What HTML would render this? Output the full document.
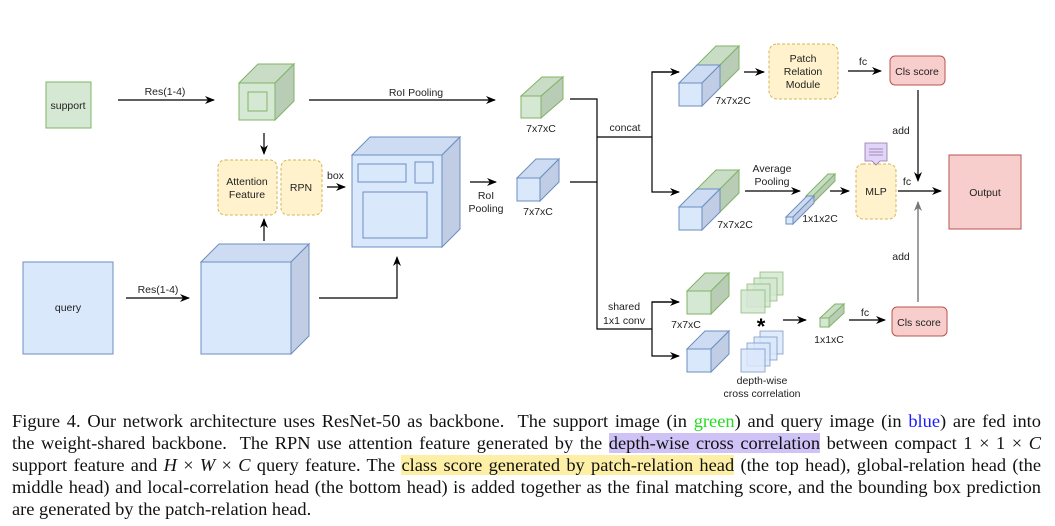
<!DOCTYPE html>
<html><head><meta charset="utf-8"><style>
body{margin:0;width:1055px;height:526px;background:#fff;position:relative;overflow:hidden}
svg{position:absolute;left:0;top:0}
svg text{font-family:"Liberation Sans",sans-serif;font-size:10.5px;fill:#222}
.cap{position:absolute;left:12px;width:1029px;font-family:"Liberation Serif",serif;font-size:18.4px;color:#111;text-align:justify;text-align-last:justify;white-space:nowrap;line-height:22px;height:22px}
.cap.last{text-align-last:left}
.hp{background:#cfc2f6}.hy{background:#fdf0a6}
i{font-family:"Liberation Serif",serif}
</style></head><body>
<svg width="1055" height="400" viewBox="0 0 1055 400">
<defs><marker id="a" markerWidth="10" markerHeight="8" refX="9" refY="4" orient="auto" markerUnits="userSpaceOnUse"><path d="M0,0 L10,4 L0,8 L3,4 z" fill="#000"/></marker>
<marker id="g" markerWidth="10" markerHeight="8" refX="9" refY="4" orient="auto" markerUnits="userSpaceOnUse"><path d="M0,0 L10,4 L0,8 L3,4 z" fill="#777"/></marker></defs>
<g stroke="#000" stroke-width="1.2" fill="none">
<line x1="118" y1="100" x2="214" y2="100" marker-end="url(#a)"/>
<line x1="309" y1="100" x2="495" y2="100" marker-end="url(#a)"/>
<line x1="264" y1="133" x2="264" y2="154" marker-end="url(#a)"/>
<line x1="264" y1="241" x2="264" y2="219" marker-end="url(#a)"/>
<line x1="327" y1="187" x2="345" y2="187" marker-end="url(#a)"/>
<line x1="126" y1="298" x2="189" y2="298" marker-end="url(#a)"/>
<polyline points="319,298 397,298 397,257" marker-end="url(#a)"/>
<line x1="470" y1="182" x2="496" y2="182" marker-end="url(#a)"/>
<polyline points="570,99 597,99 597,329 652,329"/>
<line x1="570" y1="182" x2="597" y2="182"/>
<line x1="597" y1="137" x2="652" y2="137"/>
<polyline points="679,72 652,72 652,192 679,192" marker-end="url(#a)"/>
<line x1="652" y1="72" x2="679" y2="72" marker-end="url(#a)"/>
<polyline points="679,302 652,302 652,356 679,356" marker-end="url(#a)"/>
<line x1="652" y1="302" x2="679" y2="302" marker-end="url(#a)"/>
<line x1="744" y1="72" x2="764" y2="72" marker-end="url(#a)"/>
<line x1="848" y1="71" x2="881" y2="71" marker-end="url(#a)"/>
<line x1="918" y1="90" x2="918" y2="181" marker-end="url(#a)"/>
<line x1="745" y1="191" x2="800" y2="191" marker-end="url(#a)"/>
<line x1="830" y1="191" x2="849" y2="191" marker-end="url(#a)"/>
<line x1="898" y1="191" x2="941" y2="191" marker-end="url(#a)"/>
<line x1="783" y1="320" x2="806" y2="320" marker-end="url(#a)"/>
<line x1="849" y1="320" x2="885" y2="320" marker-end="url(#a)"/>
</g>
<line x1="918" y1="302" x2="918" y2="202" stroke="#777" stroke-width="1.4" marker-end="url(#g)"/>

<rect x="46" y="82" width="45" height="46" fill="#d5e8d4" stroke="#82b366"/>
<text x="68" y="109" text-anchor="middle">support</text>
<rect x="23" y="262" width="90" height="92" fill="#dae8fc" stroke="#6c8ebf"/>
<text x="68" y="311" text-anchor="middle">query</text>

<g stroke="#82b366"><polygon points="239,83 258,64 294,64 275,83" fill="#c9dcc6"/><polygon points="275,83 294,64 294,101 275,120" fill="#b9cdb6"/><rect x="239" y="83" width="36" height="37" fill="#d5e8d4"/><rect x="248" y="92" width="19" height="19" fill="#d5e8d4"/></g>
<g stroke="#6c8ebf"><polygon points="352,155 370,137 460,137 442,155" fill="#cddcf3"/><polygon points="442,155 460,137 460,229 442,247" fill="#c0cde4"/><rect x="352" y="155" width="90" height="92" fill="#dae8fc"/>
<rect x="358" y="164" width="48" height="18" fill="#dae8fc"/><rect x="415" y="162" width="18" height="21" fill="#dae8fc"/><rect x="363" y="192" width="64" height="46" fill="#dae8fc"/></g>
<g stroke="#6c8ebf"><polygon points="201,262 219,244 309,244 291,262" fill="#cddcf3"/><polygon points="291,262 309,244 309,336 291,354" fill="#c0cde4"/><rect x="201" y="262" width="90" height="92" fill="#dae8fc"/></g>

<rect x="218" y="160" width="59" height="55" rx="7" fill="#fff2cc" stroke="#d6b656" stroke-dasharray="3,2"/>
<text x="247" y="185" text-anchor="middle">Attention</text><text x="247" y="198" text-anchor="middle">Feature</text>
<rect x="281" y="160" width="41" height="55" rx="7" fill="#fff2cc" stroke="#d6b656" stroke-dasharray="3,2"/>
<text x="301" y="191" text-anchor="middle">RPN</text>

<text x="165" y="95" text-anchor="middle">Res(1-4)</text>
<text x="158" y="293" text-anchor="middle">Res(1-4)</text>
<text x="416" y="96" text-anchor="middle">RoI Pooling</text>
<text x="327" y="179">box</text>
<text x="486" y="199" text-anchor="middle">RoI</text><text x="486" y="212" text-anchor="middle">Pooling</text>

<g stroke="#82b366"><polygon points="521,96 542,77 563,77 541,96" fill="#c9dcc6"/><polygon points="541,96 563,77 563,99 541,118" fill="#b9cdb6"/><rect x="521" y="96" width="20" height="22" fill="#d5e8d4"/></g>
<text x="541" y="132" text-anchor="middle">7x7xC</text>
<g stroke="#6c8ebf"><polygon points="517,178 536,159 559,159 540,178" fill="#cddcf3"/><polygon points="540,178 559,159 559,182 540,201" fill="#c0cde4"/><rect x="517" y="178" width="23" height="23" fill="#dae8fc"/></g>
<text x="538" y="215" text-anchor="middle">7x7xC</text>
<text x="625" y="131" text-anchor="middle">concat</text>
<text x="624" y="310" text-anchor="middle">shared</text><text x="624" y="324" text-anchor="middle">1x1 conv</text>

<g stroke="#82b366"><polygon points="697,65 716,46 739,46 720,65" fill="#c9dcc6"/><polygon points="720,65 739,46 739,69 720,88" fill="#b9cdb6"/></g>
<g stroke="#6c8ebf"><polygon points="679,83 697,65 720,65 702,83" fill="#cddcf3"/><polygon points="702,83 720,65 720,88 702,106" fill="#c0cde4"/><rect x="679" y="83" width="23" height="23" fill="#dae8fc"/></g>
<text x="733" y="104" text-anchor="middle">7x7x2C</text>
<g stroke="#82b366"><polygon points="697,189 716,170 739,170 720,189" fill="#c9dcc6"/><polygon points="720,189 739,170 739,193 720,212" fill="#b9cdb6"/></g>
<g stroke="#6c8ebf"><polygon points="679,207 697,189 720,189 702,207" fill="#cddcf3"/><polygon points="702,207 720,189 720,212 702,230" fill="#c0cde4"/><rect x="679" y="207" width="23" height="23" fill="#dae8fc"/></g>
<text x="735" y="228" text-anchor="middle">7x7x2C</text>

<rect x="769" y="44" width="69" height="55" rx="8" fill="#fff2cc" stroke="#d6b656" stroke-dasharray="3,2"/>
<text x="803" y="62" text-anchor="middle">Patch</text><text x="803" y="75" text-anchor="middle">Relation</text><text x="803" y="88" text-anchor="middle">Module</text>
<text x="863" y="65" text-anchor="middle">fc</text>
<rect x="890" y="56" width="55" height="29" rx="5" fill="#f8cecc" stroke="#b85450"/>
<text x="917" y="75" text-anchor="middle">Cls score</text>
<text x="901" y="134" text-anchor="middle">add</text>

<text x="772" y="172" text-anchor="middle">Average</text><text x="772" y="185" text-anchor="middle">Pooling</text>
<g stroke="#82b366"><polygon points="806,196 828,174 835,174 813,196" fill="#c9dcc6"/><polygon points="813,196 835,174 835,181 813,203" fill="#b9cdb6"/></g>
<g stroke="#6c8ebf"><polygon points="786,217 807,196 814,196 793,217" fill="#cddcf3"/><polygon points="793,217 814,196 814,203 793,224" fill="#c0cde4"/><rect x="786" y="217" width="7" height="7" fill="#dae8fc"/></g>
<text x="820" y="222" text-anchor="middle">1x1x2C</text>

<rect x="856" y="164" width="40" height="55" rx="7" fill="#fff2cc" stroke="#d6b656" stroke-dasharray="3,2"/>
<text x="876" y="195" text-anchor="middle">MLP</text>
<path d="M865,143 h22 v18 h-7 l-4,4 l-4,-4 h-7 z" fill="#e1d5fa" stroke="#9673a6" stroke-width="0.8"/>
<g stroke="#9673a6" stroke-width="0.8"><line x1="869" y1="149" x2="883" y2="149"/><line x1="869" y1="152" x2="883" y2="152"/><line x1="869" y1="155" x2="883" y2="155"/></g>
<text x="907" y="185" text-anchor="middle">fc</text>
<rect x="949" y="155" width="72" height="74" fill="#f8cecc" stroke="#b85450"/>
<text x="985" y="196" text-anchor="middle">Output</text>
<text x="901" y="260" text-anchor="middle">add</text>

<g stroke="#82b366"><polygon points="687,291 705,273 729,273 711,291" fill="#c9dcc6"/><polygon points="711,291 729,273 729,296 711,314" fill="#b9cdb6"/><rect x="687" y="291" width="24" height="23" fill="#d5e8d4"/></g>
<text x="686" y="328" text-anchor="middle">7x7xC</text>
<g stroke="#6c8ebf"><polygon points="687,349 705,331 729,331 711,349" fill="#cddcf3"/><polygon points="711,349 729,331 729,354 711,372" fill="#c0cde4"/><rect x="687" y="349" width="24" height="23" fill="#dae8fc"/></g>
<g stroke="#82b366" fill="#d5e8d4" fill-opacity="0.85" stroke-opacity="0.7"><rect x="760" y="272" width="23" height="23"/><rect x="754" y="278" width="23" height="23"/><rect x="747" y="284" width="23" height="23"/><rect x="741" y="290" width="24" height="23"/></g>
<g stroke="#6c8ebf" fill="#dae8fc" fill-opacity="0.85" stroke-opacity="0.7"><rect x="760" y="331" width="23" height="23"/><rect x="754" y="337" width="23" height="23"/><rect x="747" y="343" width="23" height="23"/><rect x="741" y="349" width="24" height="23"/></g>
<text x="761" y="334" text-anchor="middle" style="font-size:22px;font-weight:bold;fill:#000">*</text>
<text x="762" y="384" text-anchor="middle">depth-wise</text><text x="762" y="397" text-anchor="middle">cross correlation</text>
<g stroke="#82b366"><polygon points="820,318 835,304 844,304 829,318" fill="#c9dcc6"/><polygon points="829,318 844,304 844,313 829,327" fill="#b9cdb6"/><rect x="820" y="318" width="9" height="9" fill="#d5e8d4"/></g>
<text x="829" y="343" text-anchor="middle">1x1xC</text>
<text x="865" y="316" text-anchor="middle">fc</text>
<rect x="892" y="307" width="55" height="29" rx="5" fill="#f8cecc" stroke="#b85450"/>
<text x="919" y="326" text-anchor="middle">Cls score</text>
</svg>
<div class="cap" style="top:410px">Figure 4. Our network architecture uses ResNet-50 as backbone.&nbsp; The support image (in <span style="color:#22dd22">green</span>) and query image (in <span style="color:#1a1aff">blue</span>) are fed into</div>
<div class="cap" style="top:432px">the weight-shared backbone.&nbsp; The RPN use attention feature generated by the <span class="hp">depth-wise cross correlation</span> between compact 1 × 1 × <i>C</i></div>
<div class="cap" style="top:454px">support feature and <i>H</i> × <i>W</i> × <i>C</i> query feature. The <span class="hy">class score generated by patch-relation head</span> (the top head), global-relation head (the</div>
<div class="cap" style="top:476px">middle head) and local-correlation head (the bottom head) is added together as the final matching score, and the bounding box prediction</div>
<div class="cap last" style="top:498px">are generated by the patch-relation head.</div>
</body></html>
